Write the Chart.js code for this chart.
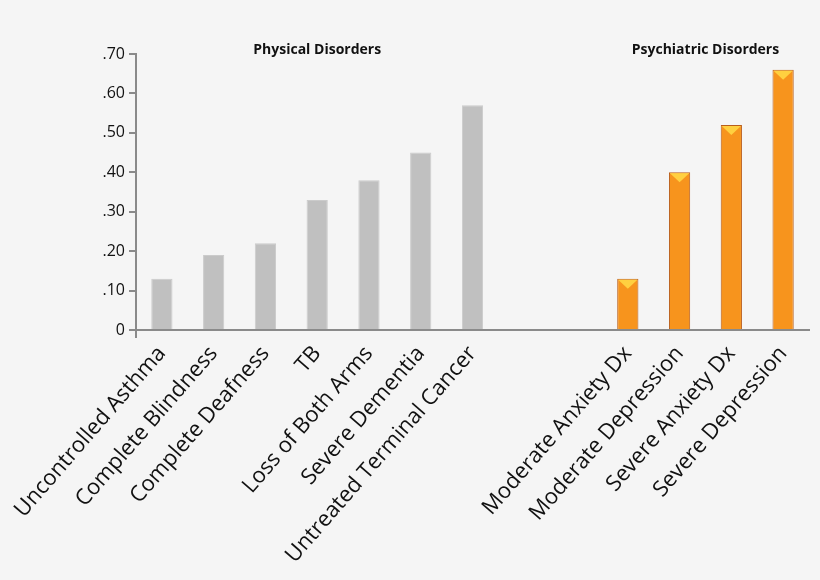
<!DOCTYPE html>
<html>
<head>
<meta charset="utf-8">
<script src="https://cdn.jsdelivr.net/npm/chart.js@4"></script>
<style>
    html, body { margin: 0; padding: 0; background: #f5f5f5; }
    #wrap { width: 820px; height: 580px; }
</style>
</head>
<body>
<div id="wrap"><canvas id="disorderChart" width="820" height="580"></canvas></div>
<script>
const physicalLabels = ["Uncontrolled Asthma", "Complete Blindness", "Complete Deafness", "TB",
    "Loss of Both Arms", "Severe Dementia", "Untreated Terminal Cancer"];
const physicalValues = [0.13, 0.19, 0.22, 0.33, 0.38, 0.45, 0.57];

const psychLabels = ["Moderate Anxiety Dx", "Moderate Depression", "Severe Anxiety Dx", "Severe Depression"];
const psychValues = [0.13, 0.40, 0.52, 0.66];

const groupTitles = ["Physical Disorders", "Psychiatric Disorders"];
const yTicks = [0, 0.1, 0.2, 0.3, 0.4, 0.5, 0.6, 0.7];

// two empty slots between the groups
const gapLabels = ["", ""];
const labels = physicalLabels.concat(gapLabels, psychLabels);
const grayData = physicalValues.concat([null, null], psychLabels.map(() => null));
const orangeData = physicalLabels.map(() => null).concat([null, null], psychValues);

function orangeFill(context) {
    const chart = context.chart;
    const el = context.element;
    if (!chart.chartArea || !el || el.width === undefined) return "#f7941d";
    const x0 = el.x - el.width / 2;
    const g = chart.ctx.createLinearGradient(x0, 0, x0 + el.width, 0);
    g.addColorStop(0, "#d06a18");
    g.addColorStop(0.3, "#fa9c2e");
    g.addColorStop(0.6, "#f5922a");
    g.addColorStop(1, "#c2601a");
    return g;
}

// yellow bevel cap on top of the orange bars
const capPlugin = {
    id: "caps",
    afterDatasetsDraw(chart) {
        const ctx = chart.ctx;
        const meta = chart.getDatasetMeta(1);
        meta.data.forEach((bar, i) => {
            if (orangeData[i] == null) return;
            const half = bar.width / 2;
            ctx.save();
            ctx.fillStyle = "#ffd040";
            ctx.beginPath();
            ctx.moveTo(bar.x - half + 1, bar.y + 1);
            ctx.lineTo(bar.x + half - 1, bar.y + 1);
            ctx.lineTo(bar.x, bar.y + half * 0.95);
            ctx.closePath();
            ctx.fill();
            ctx.restore();
        });
    }
};

// group titles above each set of bars
const titlePlugin = {
    id: "groupTitles",
    afterDraw(chart) {
        const ctx = chart.ctx;
        const x = chart.scales.x;
        ctx.save();
        ctx.font = "bold 14px 'Open Sans', sans-serif";
        ctx.fillStyle = "#111";
        ctx.textAlign = "center";
        ctx.textBaseline = "middle";
        ctx.fillText(groupTitles[0], x.getPixelForValue(3), 50);
        ctx.fillText(groupTitles[1], (x.getPixelForValue(10) + x.getPixelForValue(11)) / 2, 50);
        ctx.restore();
    }
};

new Chart(document.getElementById("disorderChart"), {
    type: "bar",
    data: {
        labels: labels,
        datasets: [{
            data: grayData,
            backgroundColor: "#c0c0c0",
            borderColor: "#cbcbcb",
            borderWidth: 1,
            barPercentage: 0.41,
            categoryPercentage: 1,
            skipNull: true
        }, {
            data: orangeData,
            backgroundColor: orangeFill,
            borderColor: "#b85e1c",
            borderWidth: 1,
            barPercentage: 0.41,
            categoryPercentage: 1,
            skipNull: true
        }]
    },
    options: {
        responsive: false,
        animation: false,
        layout: { padding: { top: 54, right: 11, left: 0, bottom: 0 } },
        plugins: {
            legend: { display: false },
            tooltip: { enabled: false }
        },
        scales: {
            x: {
                offset: true,
                grid: {
                    offset: true,
                    drawOnChartArea: false,
                    tickLength: 8,
                    lineWidth: 2,
                    color: ctx => (ctx.index === 0 || ctx.index === labels.length) ? "#8a8a8a" : "rgba(0,0,0,0)"
                },
                border: { color: "#8a8a8a", width: 2 },
                ticks: {
                    minRotation: 49,
                    maxRotation: 49,
                    autoSkip: false,
                    color: "#111",
                    padding: 3,
                    font: { family: "'Open Sans', sans-serif", size: 22 }
                },
                afterFit: scale => { scale.height = 250; }
            },
            y: {
                min: 0,
                max: 0.7,
                afterBuildTicks: scale => { scale.ticks = yTicks.map(v => ({ value: v })); },
                grid: {
                    drawOnChartArea: false,
                    tickLength: 7,
                    lineWidth: 2,
                    color: "#8a8a8a"
                },
                border: { color: "#8a8a8a", width: 2 },
                ticks: {
                    color: "#111",
                    padding: 4,
                    font: { family: "'Open Sans', sans-serif", size: 16 },
                    callback: v => v === 0 ? "0" : v.toFixed(2).replace(/^0/, "")
                },
                afterFit: scale => { scale.width = 136; }
            }
        }
    },
    plugins: [capPlugin, titlePlugin]
});
</script>
</body>
</html>
